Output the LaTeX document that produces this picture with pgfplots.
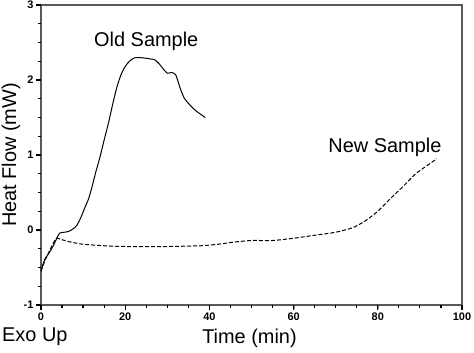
\documentclass[border=0pt]{standalone}
\usepackage{pgfplots}
\pgfplotsset{compat=1.18}
\usepackage{fontspec}
\setmainfont{Liberation Sans}
\usetikzlibrary{calc}
\begin{document}
\begin{tikzpicture}
\begin{axis}[
  name=ax,
  scale only axis,
  width=421bp, height=300bp,
  xmin=0, xmax=100, ymin=-1, ymax=3,
  xtick={0,20,40,60,80,100},
  ytick={-1,0,1,2,3},
  yticklabels={-1,0,1,2,3},
  tick align=outside,
  tick pos=left,
  major tick length=4bp,
  axis line style={black!65, line width=1.1pt},
  every tick label/.append style={font=\fontsize{11}{13}\selectfont\bfseries},
  /pgf/number format/assume math mode=true,
  clip=false,
]
\addplot[black, line width=1pt, smooth, tension=0.4] coordinates {
(0,-0.55)(0.5,-0.45)(1,-0.38)(2,-0.3)(3,-0.2)(4,-0.08)(4.5,-0.04)(5.5,-0.03)(6.5,-0.02)(7.5,0.01)(8.5,0.06)(9.5,0.17)(10.5,0.31)(11.2,0.4)(12,0.55)(13,0.77)(14,0.97)(15,1.2)(16,1.42)(17,1.67)(18,1.9)(19,2.07)(20,2.18)(21,2.25)(22,2.29)(23,2.3)(25,2.29)(26,2.28)(27,2.27)(28,2.22)(29,2.15)(30,2.09)(31,2.1)(32,2.07)(33,1.9)(34,1.76)(35,1.69)(36,1.63)(37,1.58)(38,1.54)(39,1.5)
};
\addplot[black, line width=1pt, smooth, tension=0.4, dash pattern=on 4bp off 2bp] coordinates {
(0,-0.55)(1,-0.4)(2,-0.28)(3,-0.17)(3.7,-0.11)(5,-0.13)(7,-0.16)(10,-0.19)(15,-0.21)(20,-0.22)(30,-0.22)(38,-0.21)(42,-0.19)(46,-0.16)(50,-0.14)(55,-0.14)(60,-0.11)(65,-0.07)(70,-0.03)(74,0.03)(77,0.12)(80,0.25)(83,0.42)(86,0.58)(89,0.75)(92,0.87)(94,0.95)
};
\node[font=\fontsize{20}{24}\selectfont] at (axis cs:25,2.52) {Old Sample};
\node[font=\fontsize{20}{24}\selectfont] at (axis cs:81.7,1.1) {New Sample};
\end{axis}
\foreach \i in {0,...,20}{
  \pgfmathsetmacro{\len}{mod(\i,4)==0 ? 5 : 3}
  \draw[black, line width=1.2pt] ($(ax.south west)!\i/20!(ax.south east)$) -- ++(0,-\len bp);
}
\foreach \i in {0,...,16}{
  \pgfmathsetmacro{\len}{mod(\i,4)==0 ? 5 : 3}
  \draw[black, line width=1.2pt] ($(ax.south west)!\i/16!(ax.north west)$) -- ++(-\len bp,0);
}
\node[rotate=90, font=\fontsize{20}{24}\selectfont] at ($(ax.west)+(-30bp,0)$) {Heat Flow (mW)};
\node[font=\fontsize{20}{24}\selectfont] at ($(ax.south)+(-2bp,-33bp)$) {Time (min)};
\node[anchor=west, inner sep=0pt, font=\fontsize{20}{24}\selectfont] at ($(ax.south west)+(-39bp,-32bp)$) {Exo Up};
\pgfresetboundingbox
\path[use as bounding box] ($(ax.south west)+(-41bp,-48bp)$) rectangle ($(ax.north east)+(12bp,5bp)$);
\end{tikzpicture}
\end{document}
